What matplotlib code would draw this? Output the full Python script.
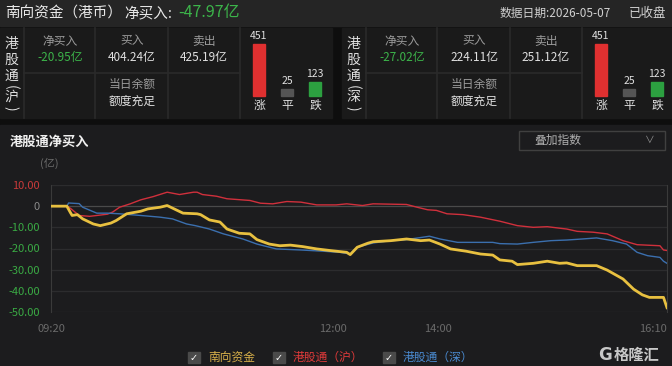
import matplotlib
matplotlib.use('Agg')
import matplotlib.pyplot as plt
from matplotlib.patches import Rectangle

plt.rcParams['font.family'] = ['Noto Sans CJK SC', 'DejaVu Sans']

# intraday net buy (亿)
sh_times = ['09:20', '09:29', '09:31', '09:36', '09:42', '09:52', '09:55', '09:59', '10:05',
            '10:11', '10:18', '10:26', '10:33', '10:41', '10:43', '10:46', '10:54', '11:00',
            '11:13', '11:19', '11:26', '11:34', '11:42', '11:51', '12:00', '13:02', '13:08',
            '13:17', '13:23', '13:42', '13:48', '13:54', '13:59', '14:05', '14:14', '14:24',
            '14:35', '14:45', '14:54', '15:02', '15:13', '15:19', '15:28', '15:36', '15:45',
            '15:53', '16:06', '16:08', '16:10']
sh_values = [0, 0, -1.0, -4.4, -4.8, -3.8, -2.8, -0.5, 1.1,
             3.0, 4.5, 6.6, 5.5, 6.6, 6.6, 5.5, 4.7, 3.5,
             2.7, 1.4, 1.1, 2.2, 1.9, 0.6, 0.6, 0.6, 1.1,
             0.3, 1.1, 0.8, -0.5, -1.7, -2.0, -3.6, -4.0, -5.2,
             -7.1, -9.2, -10.0, -9.7, -10.8, -11.9, -12.3, -13.1, -16.3,
             -18.2, -18.7, -20.7, -20.95]

sz_times = ['09:20', '09:29', '09:30', '09:36', '09:38', '09:46', '09:52', '09:59', '10:11',
            '10:22', '10:29', '10:37', '10:42', '10:50', '10:58', '11:09', '11:17', '11:28',
            '11:42', '11:55', '12:00', '13:04', '13:10', '13:14', '13:23', '13:33', '13:42',
            '13:51', '13:55', '14:01', '14:11', '14:20', '14:31', '14:35', '14:45', '14:54',
            '15:04', '15:13', '15:22', '15:30', '15:39', '15:47', '15:53', '15:59', '16:06',
            '16:08', '16:10']
sz_values = [0, 0, 1.5, 1.2, -0.5, -3.3, -3.3, -3.6, -4.4,
             -5.2, -6.0, -8.4, -9.2, -10.8, -13.1, -15.5, -17.9, -20.2,
             -20.7, -21.3, -21.6, -21.8, -22.6, -19.4, -17.4, -16.3, -15.8,
             -14.7, -14.2, -15.5, -17.1, -17.1, -17.1, -17.7, -17.9, -17.1,
             -16.3, -16.0, -15.5, -15.0, -16.3, -17.9, -21.8, -23.4, -24.2,
             -26.0, -27.02]

total_times = ['09:20', '09:29', '09:31', '09:32', '09:35', '09:38', '09:44', '09:48', '09:54',
               '09:57', '10:03', '10:11', '10:15', '10:22', '10:26', '10:29', '10:35', '10:43',
               '10:45', '10:50', '10:56', '11:00', '11:07', '11:13', '11:17', '11:24', '11:30',
               '11:36', '11:43', '11:51', '11:59', '13:08', '13:10', '13:14', '13:20', '13:23',
               '13:33', '13:42', '13:50', '13:55', '14:01', '14:07', '14:16', '14:24', '14:31',
               '14:35', '14:42', '14:45', '14:54', '15:02', '15:09', '15:13', '15:19', '15:30',
               '15:36', '15:45', '15:51', '15:56', '16:00', '16:08', '16:10']
total_values = [0, 0, -3.0, -4.4, -4.0, -6.0, -8.4, -9.2, -8.0,
                -6.8, -3.6, -2.4, -1.3, -0.5, 0.3, -0.9, -3.3, -3.6,
                -4.0, -6.5, -7.5, -10.8, -12.8, -13.1, -15.8, -17.9, -18.7,
                -18.4, -19.1, -20.2, -21.0, -21.8, -22.9, -19.4, -17.5, -16.8,
                -16.3, -15.5, -16.3, -16.0, -17.9, -20.2, -21.3, -22.6, -23.1,
                -25.4, -26.0, -27.6, -27.0, -26.0, -27.0, -26.8, -28.1, -28.1,
                -30.2, -34.4, -39.2, -41.9, -43.1, -43.1, -47.97]

# summary panels
panel_names = ['沪', '深']
panel_net = ['-20.95亿', '-27.02亿']
panel_buy = ['404.24亿', '224.11亿']
panel_sell = ['425.19亿', '251.12亿']
breadth_labels = ['涨', '平', '跌']
breadth_counts = [451, 25, 123]

y_ticks = [10, 0, -10, -20, -30, -40, -50]
y_ticklabels = ['10.00', '0', '-10.00', '-20.00', '-30.00', '-40.00', '-50.00']
x_ticklabels = ['09:20', '12:00', '14:00', '16:10']

RED = '#d0303c'
BLUE = '#3b6fae'
YELLOW = '#e8c040'
GREEN = '#3cb44a'
W, H = 672, 366


def t2m(t):
    hh, mm = map(int, t.split(':'))
    m = hh * 60 + mm
    if m <= 12 * 60:
        return m - (9 * 60 + 20)
    return 160 + m - 13 * 60


fig = plt.figure(figsize=(W / 100, H / 100), dpi=100, facecolor='#0e0e0e')

# overlay in pixel coords for the dashboard chrome
ov = fig.add_axes([0, 0, 1, 1])
ov.set_xlim(0, W)
ov.set_ylim(H, 0)
ov.axis('off')

ov.add_patch(Rectangle((0, 0), W, 26, color='#252525'))
ov.text(5, 13, '南向资金（港币）', color='#e8e8e8', fontsize=10.5, va='center')
ov.text(124, 13, '净买入:', color='#e8e8e8', fontsize=10.5, va='center')
ov.text(178, 13, '-47.97亿', color=GREEN, fontsize=11.5, va='center')
ov.text(500, 13, '数据日期:2026-05-07', color='#d0d0d0', fontsize=8.5, va='center')
ov.text(629, 13, '已收盘', color='#d0d0d0', fontsize=9, va='center')

for i, name in enumerate(panel_names):
    x0 = i * 342
    ov.add_patch(Rectangle((x0, 28), 332, 90, color='#1a1a1a'))
    for xx in (24, 95, 168, 240):
        ov.plot([x0 + xx, x0 + xx], [28, 118], color='#2a2a2a', lw=1.2)
    ov.plot([x0 + 24, x0 + 240], [73, 73], color='#2a2a2a', lw=1.2)
    # vertical label, parens turned sideways
    for ch, yy, rot in [('港', 44, 0), ('股', 60, 0), ('通', 76, 0), ('(', 87, 270),
                        (name, 97, 0), (')', 108, 270)]:
        ov.text(x0 + 11, yy, ch, color='#e0e0e0', fontsize=10, ha='center', va='center',
                rotation=rot)
    ov.text(x0 + 60, 41, '净买入', color='#9a9a9a', fontsize=8.5, ha='center', va='center')
    ov.text(x0 + 60, 58, panel_net[i], color=GREEN, fontsize=8.5, ha='center', va='center')
    ov.text(x0 + 132, 41, '买入', color='#9a9a9a', fontsize=8.5, ha='center', va='center')
    ov.text(x0 + 132, 58, panel_buy[i], color='#e0e0e0', fontsize=8.5, ha='center', va='center')
    ov.text(x0 + 204, 41, '卖出', color='#9a9a9a', fontsize=8.5, ha='center', va='center')
    ov.text(x0 + 204, 58, panel_sell[i], color='#e0e0e0', fontsize=8.5, ha='center', va='center')
    ov.text(x0 + 132, 84, '当日余额', color='#9a9a9a', fontsize=8.5, ha='center', va='center')
    ov.text(x0 + 132, 101, '额度充足', color='#e0e0e0', fontsize=8.5, ha='center', va='center')
    # breadth bars, scaled to the largest count
    scale = 52 / max(breadth_counts)
    for j, (lab, cnt, col) in enumerate(zip(breadth_labels, breadth_counts,
                                            ['#e03030', '#555555', '#2ca040'])):
        bx = x0 + 259 + j * 28
        h = max(cnt * scale, 7)
        ov.add_patch(Rectangle((bx - 6, 96 - h), 12, h, color=col))
        ov.text(bx, 96 - h - 8, str(cnt), color='#e0e0e0', fontsize=7.5, ha='center', va='center')
        ov.text(bx, 105, lab, color='#e0e0e0', fontsize=8.5, ha='center', va='center')

ov.add_patch(Rectangle((0, 125), W, H - 125, color='#1c1c1e'))
ov.text(10, 142, '港股通净买入', color='#f0f0f0', fontsize=9.5, fontweight='bold', va='center')
ov.text(40, 163, '(亿)', color='#6a6a6a', fontsize=8, va='center')
ov.add_patch(Rectangle((519, 131), 146, 19, fill=False, ec='#404040', lw=1))
ov.text(534, 140, '叠加指数', color='#b0b0b0', fontsize=8.5, va='center')
ov.text(650, 140, '∨', color='#909090', fontsize=7, ha='center', va='center')

# legend row
legend = [('南向资金', '#d8b04a', 188), ('港股通（沪）', '#e03a3a', 273),
          ('港股通（深）', '#4a8ad0', 383)]
for lab, tcol, lx in legend:
    ov.add_patch(Rectangle((lx, 352), 12, 11, color='#4a4a4a'))
    ov.text(lx + 6, 357.5, '✓', color='white', fontsize=7, ha='center', va='center',
            family='DejaVu Sans', fontweight='bold')
    ov.text(lx + 20, 357, lab, color=tcol, fontsize=8.5, va='center')

ov.text(598, 355, 'G', color='#c8c8c8', fontsize=12, fontweight='bold', va='center',
        family='DejaVu Sans')
ov.text(614, 355, '格隆汇', color='#c8c8c8', fontsize=11, fontweight='bold', va='center')

# main chart
ax = fig.add_axes([51 / W, (H - 312) / H, 616 / W, 127 / H])
ax.set_facecolor('none')
ax.plot([t2m(t) for t in sh_times], sh_values, color=RED, lw=1.0, zorder=3)
ax.plot([t2m(t) for t in sz_times], sz_values, color=BLUE, lw=1.0, zorder=3)
ax.plot([t2m(t) for t in total_times], total_values, color=YELLOW, lw=2.0, zorder=4)

ax.set_xlim(0, 350)
ax.set_ylim(-50, 10)
for v in y_ticks:
    ax.axhline(v, color='#4a4a4a' if v == 0 else '#2c2c2e', lw=0.9, zorder=1)
for s in ('top', 'bottom'):
    ax.spines[s].set_visible(False)
ax.spines['left'].set_color('#3a3a3a')
ax.spines['right'].set_color('#3a3a3a')

ax.set_yticks(y_ticks)
ax.set_yticklabels(y_ticklabels, fontsize=8)
for lbl, v in zip(ax.get_yticklabels(), y_ticks):
    lbl.set_color('#c83a3a' if v > 0 else ('#8a8a8a' if v == 0 else '#3aaa44'))
ax.tick_params(axis='y', length=0, pad=8)

ax.set_xticks([t2m(t) for t in x_ticklabels])
ax.set_xticklabels(x_ticklabels, fontsize=8, color='#6a6a6a')
ax.tick_params(axis='x', length=0, pad=9)
ax.get_xticklabels()[-1].set_ha('right')

fig.savefig('out.png', dpi=100, facecolor=fig.get_facecolor())
